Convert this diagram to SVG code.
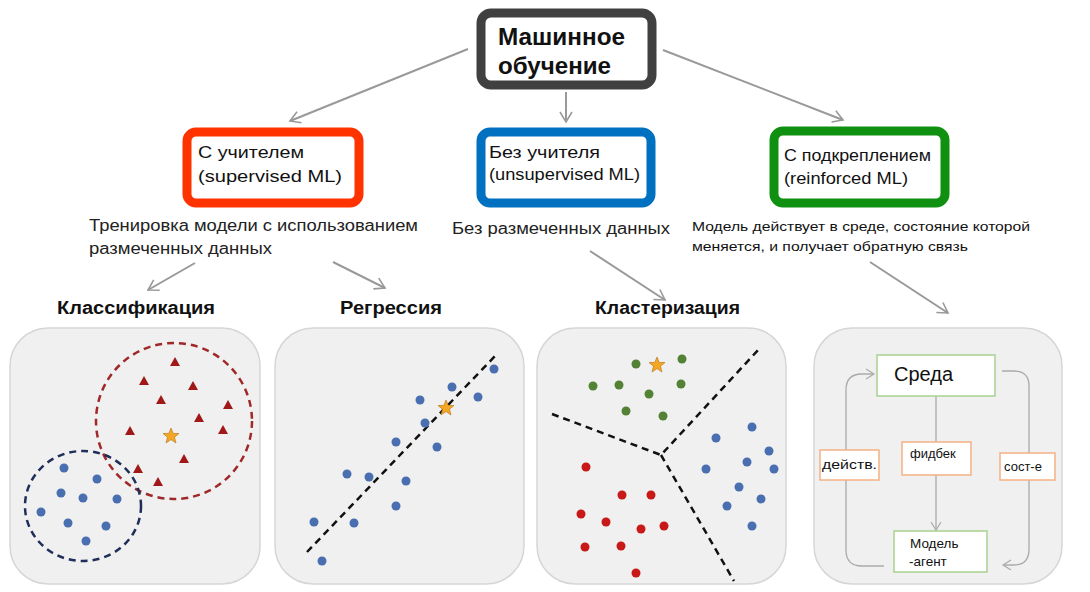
<svg xmlns="http://www.w3.org/2000/svg" width="1090" height="592" viewBox="0 0 1090 592">
<defs>
<marker id="ah" markerWidth="14" markerHeight="14" refX="11" refY="7" orient="auto" markerUnits="userSpaceOnUse"><path d="M1,1 L11,7 L1,13" fill="none" stroke="#999" stroke-width="1.6"/></marker>
<marker id="ah2" markerWidth="12" markerHeight="12" refX="9" refY="6" orient="auto" markerUnits="userSpaceOnUse"><path d="M1,1 L9,6 L1,11" fill="none" stroke="#aaa" stroke-width="1.2"/></marker>
<symbol id="star" viewBox="-10 -10 20 20" overflow="visible"><polygon points="0,-8 2.2,-2.6 8,-2.5 3.5,1.2 5,7 0,3.6 -5,7 -3.5,1.2 -8,-2.5 -2.2,-2.6" fill="#f5a623" stroke="#b07010" stroke-width="0.6"/></symbol>
</defs>
<style>
text{font-family:"Liberation Sans",Arial,sans-serif;fill:#111}
.t{font-size:17px}
.d{font-size:16px;fill:#222}
.h{font-size:18px;font-weight:bold}
.panel{fill:#f0f0f0;stroke:#d6d6d6;stroke-width:1.5}
.con{stroke:#999;stroke-width:2;fill:none;marker-end:url(#ah)}
.b{fill:#4a6fb0}.r{fill:#c81818}.g{fill:#548235}.tr{fill:#a01818}
.dash{stroke:#111;stroke-width:2.5;stroke-dasharray:7,5;fill:none}
.gb{fill:#fff;stroke:#a9d18e;stroke-width:1.5}
.ob{fill:#fff;stroke:#f4b183;stroke-width:1.5}
.loop{stroke:#aaa;stroke-width:1.3;fill:none;marker-end:url(#ah2)}
</style>
<rect width="1090" height="592" fill="#fff"/>
<g id="connectors">
<line class="con" x1="468" y1="49" x2="290" y2="121"/>
<line class="con" x1="566" y1="92" x2="566" y2="122"/>
<line class="con" x1="663" y1="50" x2="843" y2="120"/>
<line class="con" x1="195" y1="263" x2="148" y2="290"/>
<line class="con" x1="333" y1="262" x2="385" y2="288"/>
<line class="con" x1="590" y1="251" x2="665" y2="300"/>
<line class="con" x1="870" y1="262" x2="948" y2="313"/>
</g>
<g id="root">
<rect x="481" y="13" width="171" height="72" rx="10" fill="#fff" stroke="#404040" stroke-width="9"/>
<text x="498" y="45" font-size="23" font-weight="bold" textLength="127" lengthAdjust="spacingAndGlyphs">Машинное</text>
<text x="498" y="74" font-size="23" font-weight="bold" textLength="113" lengthAdjust="spacingAndGlyphs">обучение</text>
</g>
<g id="supervised">
<rect x="187" y="132" width="172" height="71" rx="9" fill="#fff" stroke="#ff3300" stroke-width="9"/>
<text class="t" x="198" y="158" textLength="106" lengthAdjust="spacingAndGlyphs">С учителем</text>
<text class="t" x="198" y="182" textLength="144" lengthAdjust="spacingAndGlyphs">(supervised ML)</text>
</g>
<g id="unsupervised">
<rect x="481" y="132" width="170" height="71" rx="9" fill="#fff" stroke="#0070c0" stroke-width="9"/>
<text class="t" x="489" y="158" textLength="111" lengthAdjust="spacingAndGlyphs">Без учителя</text>
<text x="489" y="180" font-size="16" textLength="151" lengthAdjust="spacingAndGlyphs">(unsupervised ML)</text>
</g>
<g id="reinforced">
<rect x="774" y="131" width="171" height="72" rx="9" fill="#fff" stroke="#109010" stroke-width="9"/>
<text class="t" x="784" y="161" textLength="147" lengthAdjust="spacingAndGlyphs">С подкреплением</text>
<text class="t" x="784" y="184" textLength="124" lengthAdjust="spacingAndGlyphs">(reinforced ML)</text>
</g>
<g id="desc">
<text class="d" x="89" y="231" textLength="329" lengthAdjust="spacingAndGlyphs">Тренировка модели с использованием</text>
<text class="d" x="89" y="254" textLength="183" lengthAdjust="spacingAndGlyphs">размеченных данных</text>
<text class="d" x="452" y="234" textLength="218" lengthAdjust="spacingAndGlyphs">Без размеченных данных</text>
<text x="692" y="231" font-size="13.5" textLength="338" lengthAdjust="spacingAndGlyphs">Модель действует в среде, состояние которой</text>
<text x="692" y="251" font-size="13.5" textLength="276" lengthAdjust="spacingAndGlyphs">меняется, и получает обратную связь</text>
<text class="h" x="57" y="314" textLength="158" lengthAdjust="spacingAndGlyphs">Классификация</text>
<text class="h" x="340" y="314" textLength="102" lengthAdjust="spacingAndGlyphs">Регрессия</text>
<text class="h" x="595" y="314" textLength="145" lengthAdjust="spacingAndGlyphs">Кластеризация</text>
</g>
<g id="classification">
<rect class="panel" x="10" y="328" width="250" height="256" rx="38"/>
<circle cx="174" cy="421" r="78" fill="none" stroke="#a02828" stroke-width="2.5" stroke-dasharray="7,5"/>
<ellipse cx="83" cy="506" rx="58" ry="55" fill="none" stroke="#1f2f5a" stroke-width="2.5" stroke-dasharray="7,5"/>
<g class="tr">
<polygon points="175,357 180,366 170,366"/><polygon points="144,376 149,385 139,385"/><polygon points="193,381 198,390 188,390"/><polygon points="161,395 166,404 156,404"/><polygon points="228,400 233,409 223,409"/><polygon points="199,413 204,422 194,422"/><polygon points="130,426 135,435 125,435"/><polygon points="223,425 228,434 218,434"/><polygon points="184,454 189,463 179,463"/><polygon points="138,464 143,473 133,473"/><polygon points="158,477 163,486 153,486"/>
</g>
<use href="#star" x="161" y="426" width="20" height="20"/>
<g class="b">
<circle cx="64" cy="468" r="4.5"/><circle cx="97" cy="479" r="4.5"/><circle cx="61" cy="493" r="4.5"/><circle cx="83" cy="498" r="4.5"/><circle cx="117" cy="499" r="4.5"/><circle cx="41" cy="512" r="4.5"/><circle cx="68" cy="523" r="4.5"/><circle cx="106" cy="526" r="4.5"/><circle cx="86" cy="541" r="4.5"/>
</g>
</g>
<g id="regression">
<rect class="panel" x="275" y="328" width="249" height="256" rx="38"/>
<line class="dash" x1="307" y1="552" x2="497" y2="354"/>
<g class="b">
<circle cx="494" cy="369" r="4.5"/><circle cx="452" cy="387" r="4.5"/><circle cx="478" cy="397" r="4.5"/><circle cx="420" cy="400" r="4.5"/><circle cx="425" cy="423" r="4.5"/><circle cx="396" cy="442" r="4.5"/><circle cx="437" cy="447" r="4.5"/><circle cx="347" cy="474" r="4.5"/><circle cx="369" cy="477" r="4.5"/><circle cx="406" cy="481" r="4.5"/><circle cx="396" cy="506" r="4.5"/><circle cx="314" cy="522" r="4.5"/><circle cx="354" cy="523" r="4.5"/><circle cx="322" cy="561" r="4.5"/>
</g>
<use href="#star" x="436" y="398" width="20" height="20"/>
</g>
<g id="clustering">
<rect class="panel" x="537" y="328" width="249" height="256" rx="38"/>
<path class="dash" d="M552,414 L661,455 L759,349 M661,455 L734,581"/>
<g class="g"><circle cx="636" cy="364" r="4.5"/><circle cx="682" cy="359" r="4.5"/><circle cx="593" cy="386" r="4.5"/><circle cx="619" cy="385" r="4.5"/><circle cx="649" cy="394" r="4.5"/><circle cx="681" cy="384" r="4.5"/><circle cx="626" cy="411" r="4.5"/><circle cx="663" cy="416" r="4.5"/></g>
<use href="#star" x="647" y="355" width="20" height="20"/>
<g class="r"><circle cx="586" cy="467" r="4.5"/><circle cx="622" cy="495" r="4.5"/><circle cx="651" cy="495" r="4.5"/><circle cx="581" cy="514" r="4.5"/><circle cx="606" cy="522" r="4.5"/><circle cx="641" cy="529" r="4.5"/><circle cx="664" cy="526" r="4.5"/><circle cx="585" cy="547" r="4.5"/><circle cx="621" cy="546" r="4.5"/><circle cx="636" cy="573" r="4.5"/></g>
<g class="b"><circle cx="752" cy="427" r="4.5"/><circle cx="716" cy="438" r="4.5"/><circle cx="769" cy="451" r="4.5"/><circle cx="706" cy="469" r="4.5"/><circle cx="747" cy="462" r="4.5"/><circle cx="774" cy="469" r="4.5"/><circle cx="739" cy="487" r="4.5"/><circle cx="761" cy="499" r="4.5"/><circle cx="727" cy="506" r="4.5"/><circle cx="752" cy="526" r="4.5"/></g>
</g>
<g id="rl">
<rect class="panel" x="814" y="328" width="248" height="256" rx="38"/>
<path class="loop" d="M884,566 H862 Q846,566 846,550 V390 Q846,374 862,374 H874"/>
<path class="loop" d="M1002,371 H1014 Q1029,371 1029,386 V549 Q1029,565 1014,565 H1003"/>
<line class="loop" x1="936" y1="396" x2="936" y2="530"/>
<rect class="gb" x="877" y="355" width="118" height="41"/>
<text x="894" y="381" font-size="20">Среда</text>
<rect class="gb" x="894" y="531" width="93" height="41"/>
<text x="910" y="548" font-size="13.5">Модель</text>
<text x="909" y="566" font-size="13.5">-агент</text>
<rect class="ob" x="902" y="442" width="69" height="33"/>
<text x="910" y="458" font-size="13">фидбек</text>
<rect class="ob" x="820" y="450" width="59" height="30"/>
<text x="822" y="469" font-size="13" textLength="55" lengthAdjust="spacingAndGlyphs">действ.</text>
<rect class="ob" x="1000" y="453" width="55" height="27"/>
<text x="1004" y="471" font-size="13">сост-е</text>
</g>
</svg>
